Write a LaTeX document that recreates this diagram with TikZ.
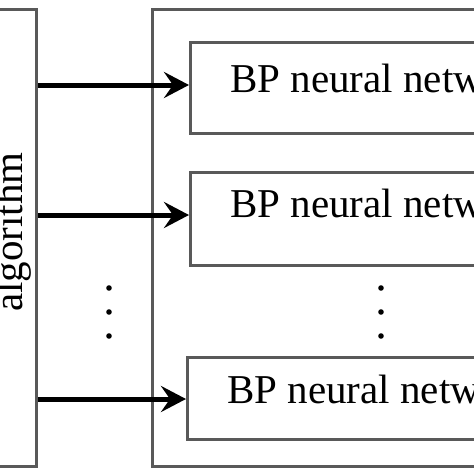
\documentclass[tikz,border=0pt]{standalone}
\usepackage{fontspec}
\setmainfont{Liberation Serif}
\usepackage{tikz}
\usetikzlibrary{positioning,arrows.meta}

\begin{document}
\begin{tikzpicture}[x=1pt, y=-1pt,
      frame/.style={draw=black!65, line width=2.6pt, inner sep=0pt},
      netbox/.style={frame, minimum width=420pt, anchor=north west},
      txt/.style={inner sep=0pt, font=\fontsize{41pt}{48pt}\selectfont},
      feed/.style={->, line width=5pt},
      >={Stealth[length=25pt, width=26pt, inset=9pt]}]
    \useasboundingbox (0,0) rectangle (474,474);
    \clip (0,0) rectangle (474,474);
    % left block and the container on the right
    \node[frame, minimum width=160pt, minimum height=457pt, anchor=north east] (alg) at (38,8) {};
    \node[frame, minimum width=500pt, minimum height=457pt, anchor=north west] (pool) at (151,8) {};
    \node[txt, rotate=90, anchor=base] (algtxt) at (23,232) {algorithm};
    % the networks
    \node[netbox, minimum height=91pt] (net1) at (189,41) {};
    \node[netbox, minimum height=93pt] (net2) at (189,171) {};
    \node[netbox, minimum height=82pt] (net3) at (186,356) {};
    \node[txt, anchor=base west] (lbl1) at (230,92) {BP neural network};
    \node[txt, anchor=base west] (lbl2) at (230,217) {BP neural network};
    \node[txt, anchor=base west] (lbl3) at (227,403) {BP neural network};
    \draw[feed] (alg.east |- 0,85) -- (net1.west |- 0,85);
    \draw[feed] (alg.east |- 0,215) -- (net2.west |- 0,215);
    \draw[feed] (alg.east |- 0,399) -- (net3.west |- 0,399);
    % dots
    \foreach \y in {288,312,336} {
      \fill (109,\y) circle (2.8pt);
      \fill (381,\y) circle (2.8pt);
    }
  \end{tikzpicture}
\end{document}
